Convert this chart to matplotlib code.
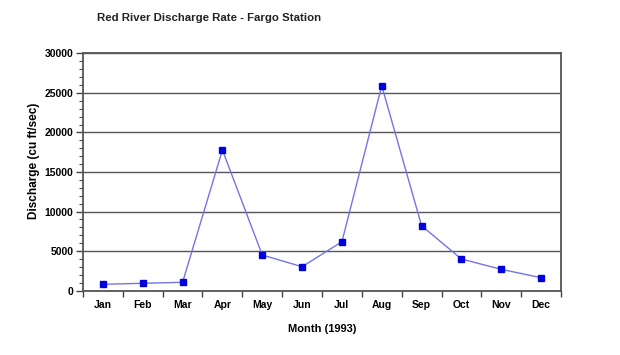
import matplotlib
matplotlib.use("Agg")
import matplotlib.pyplot as plt
from matplotlib.ticker import MultipleLocator, FixedLocator, NullFormatter

months = ["Jan", "Feb", "Mar", "Apr", "May", "Jun", "Jul", "Aug", "Sep", "Oct", "Nov", "Dec"]
discharge = [810, 935, 1060, 17780, 4510, 3030, 6190, 25900, 8210, 4000, 2700, 1640]
yticks = [0, 5000, 10000, 15000, 20000, 25000, 30000]

plt.rcParams['font.family'] = ['Liberation Sans', 'DejaVu Sans']
plt.rcParams['font.weight'] = 'bold'

fig = plt.figure(figsize=(6.2, 3.55), dpi=100)
ax = fig.add_axes([83/620, 1-290.7/355, (561-83)/620, (290.7-53.3)/355])

x = list(range(len(months)))
ax.plot(x, discharge, color="#7474e6", lw=1.0, marker="s", markersize=4.5,
        markerfacecolor="#0000dd", markeredgecolor="#0000dd", zorder=3)

ax.set_xlim(-0.5, len(months) - 0.5)
ax.set_ylim(0, 30000)
ax.set_yticks(yticks)
ax.set_yticklabels([str(v) for v in yticks], fontsize=7.5, fontweight='bold')
ax.yaxis.set_minor_locator(MultipleLocator(1000))
ax.grid(axis='y', which='major', color="#555555", lw=1.0, zorder=1)

ax.set_xticks(x)
ax.set_xticklabels(months, fontsize=7.5, fontweight='bold')
ax.tick_params(axis='x', which='major', length=0, pad=7)
ax.xaxis.set_minor_locator(FixedLocator([i - 0.5 for i in range(len(months) + 1)]))
ax.xaxis.set_minor_formatter(NullFormatter())
ax.tick_params(axis='x', which='minor', length=4, width=1, color="#444444")
ax.tick_params(axis='y', which='major', length=5, width=1, color="#444444", pad=2)
ax.tick_params(axis='y', which='minor', length=3, width=0.8, color="#444444")

for s in ax.spines.values():
    s.set_color("#555555")
    s.set_linewidth(1.3)

ax.set_ylabel("Discharge (cu ft/sec)", fontsize=8.5, fontweight='bold')
ax.yaxis.set_label_coords(-0.09, 0.548)
ax.set_xlabel("Month (1993)", fontsize=8, fontweight='bold', labelpad=10)
fig.text(97/620, 1-18/355, "Red River Discharge Rate - Fargo Station", fontsize=8.2,
         fontweight='bold', va='center', ha='left', color="#222222")

fig.savefig("out.png", dpi=100)
